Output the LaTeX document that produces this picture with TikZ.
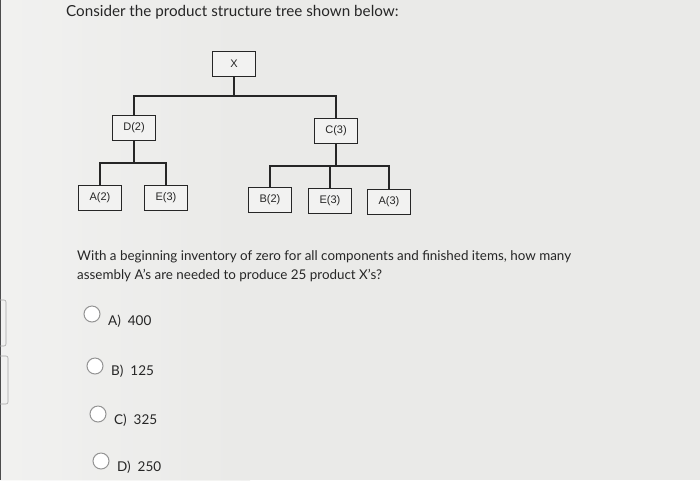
\documentclass[tikz,border=0pt]{standalone}
\usepackage{fontspec}
\setmainfont{Lato}
\newfontfamily\boxfont{Liberation Sans}
\definecolor{bgc}{HTML}{EAEAE8}
\definecolor{txt}{HTML}{262626}
\definecolor{radio}{HTML}{949494}
\newcommand{\apos}{{\char"0027}}
\tikzset{
  part/.style={draw=black!85, line width=1.7pt, fill=bgc!60!white, minimum width=43pt, minimum height=25pt, inner sep=0pt, font=\boxfont\fontsize{11}{12}\selectfont, text=txt},
  link/.style={black!85, line width=1.8pt},
  qtext/.style={anchor=west, inner sep=0pt, text=txt},
  rbtn/.style={circle, draw=radio, line width=1pt, fill=white, minimum size=16pt, inner sep=0pt},
  opt/.style={qtext, font=\fontsize{13.5}{16}\selectfont},
}
\begin{document}
\begin{tikzpicture}[x=1pt,y=-1pt]
\useasboundingbox (0,0) rectangle (700,480);
\fill[bgc] (0,0) rectangle (700,480);
\shade[left color=bgc!40!white, right color=bgc, opacity=0.6] (0,0) rectangle (250,480);
% left screen edge
\draw[black!70, line width=1.5pt] (0.7,0) -- (0.7,480);
\draw[black!35, line width=0.6pt, rounded corners=2pt] (0,300) -- (6,300) -- (6,346) -- (0,346);
\draw[black!35, line width=0.6pt, rounded corners=2pt] (0,356) -- (8,356) -- (8,404) -- (0,404);
% title
\node[qtext, font=\fontsize{15.2}{18}\selectfont] (title) at (66,12) {Consider the product structure tree shown below:};
% tree nodes
\node[part] (X) at (234,64) {X};
\node[part] (D) at (134,128) {D(2)};
\node[part] (C) at (336,131) {C(3)};
\node[part] (A2) at (100,198) {A(2)};
\node[part] (E3a) at (166,198) {E(3)};
\node[part] (B2) at (270,200) {B(2)};
\node[part] (E3b) at (330,201) {E(3)};
\node[part] (A3) at (389,202) {A(3)};
% bar levels
\coordinate (barX) at (0,96);
\coordinate (barD) at (0,163);
\coordinate (barC) at (0,166);
% connectors
\draw[link] (X.south) -- (X.south |- barX);
\draw[link] (D.north) -- (D.north |- barX) -- (C.north |- barX) -- (C.north);
\draw[link] (D.south) -- (D.south |- barD);
\draw[link] (A2.north) -- (A2.north |- barD) -- (E3a.north |- barD) -- (E3a.north);
\draw[link] (C.south) -- (C.south |- barC);
\draw[link] (B2.north) -- (B2.north |- barC) -- (A3.north |- barC) -- (A3.north);
\draw[link] (E3b.north) -- (E3b.north |- barC);
% question
\node[qtext, font=\fontsize{13.4}{16}\selectfont] (q1) at (77,257) {With a beginning inventory of zero for all components and finished items, how many};
\node[qtext, font=\fontsize{13.4}{16}\selectfont] (q2) at (77,276) {assembly A\apos s are needed to produce 25 product X\apos s?};
% options
\node[rbtn] (ra) at (92,314) {};
\node[opt] (ta) at (108,321) {A)\ \ 400};
\node[rbtn] (rb) at (95,366) {};
\node[opt] (tb) at (111,371) {B)\ \ 125};
\node[rbtn] (rc) at (98,414) {};
\node[opt] (tc) at (114,420) {C)\ \ 325};
\node[rbtn] (rd) at (101,461) {};
\node[opt] (td) at (117,467) {D)\ \ 250};
\end{tikzpicture}
\end{document}
